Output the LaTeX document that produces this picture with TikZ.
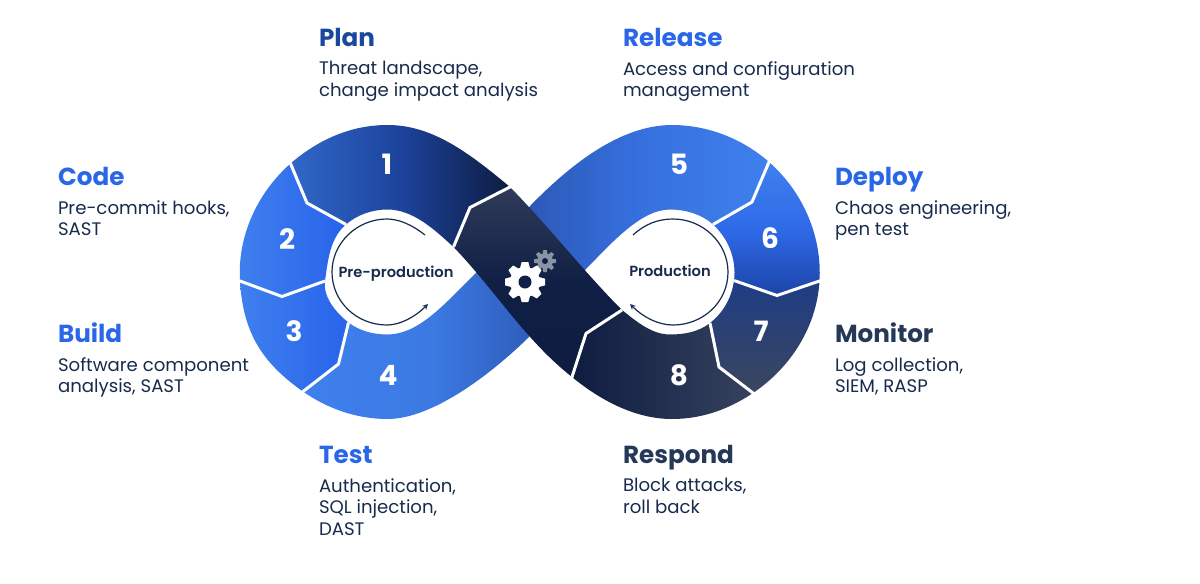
\documentclass[tikz,border=0pt]{standalone}
\usepackage{fontspec}
\setmainfont{Poppins}
\newfontfamily\phasefont{Poppins SemiBold}
\usetikzlibrary{arrows}
\usetikzlibrary{positioning}

\definecolor{navy}{HTML}{172B4D}
\definecolor{slate}{HTML}{253858}
\definecolor{azure}{HTML}{2A67E8}
\definecolor{royal}{HTML}{1A47A0}
\definecolor{skyb}{HTML}{3F80EE}
\definecolor{deepb}{HTML}{0E1C40}
\definecolor{crossb}{HTML}{2A55B0}
\definecolor{fivemid}{HTML}{3670DE}
\definecolor{midb}{HTML}{2863EB}
\definecolor{oneleft}{HTML}{3068C8}
\definecolor{onemid}{HTML}{1C439C}
\definecolor{sixmid}{HTML}{2F6AE8}
\definecolor{sixlow}{HTML}{1C44A8}
\definecolor{seventop}{HTML}{1E3D85}
\definecolor{sevenlow}{HTML}{3B465F}
\definecolor{eightend}{HTML}{36425E}
\definecolor{bandtop}{HTML}{2F3B58}
\definecolor{bandmid}{HTML}{101F45}
\definecolor{geargray}{HTML}{8A93A3}

\tikzset{
  head/.style={inner sep=0pt, outer sep=0pt, text depth=0pt, anchor=base west, font=\fontsize{18.5}{22}\selectfont\bfseries},
  desc/.style={inner sep=0pt, outer sep=0pt, align=left, text=navy, font=\fontsize{13.6}{16.1}\selectfont},
  num/.style={inner sep=0pt, text=white, font=\fontsize{21}{24}\selectfont\bfseries},
  phase/.style={inner sep=0pt, text=navy, font=\fontsize{11}{13}\phasefont},
  sep/.style={draw=white, line width=2.25pt, line join=miter, shorten <=-2pt},
  flow/.style={->, >=stealth, draw=navy, line width=0.9pt},
}

\newcommand{\gearwheel}[4]{% centre, body radius, tooth tip radius, colour
  \fill[#4] #1 circle (#2);
  \foreach \a in {0,45,...,315}
    \fill[#4, shift={#1}, rotate=\a] (-0.34*#2,0.9*#2) -- (-0.22*#2,#3) -- (0.22*#2,#3) -- (0.34*#2,0.9*#2) -- cycle;
}

\begin{document}
\begin{tikzpicture}[x=0.75pt,y=-0.75pt]
    \useasboundingbox (0,0) rectangle (1200,583);

    % shared corners of the segments: outer end, knee, inner end
    \coordinate (o12) at (290.5,163.5);
    \coordinate (k12) at (307,203);
    \coordinate (i12) at (346,224.5);
    \coordinate (o23) at (240,281);
    \coordinate (k23) at (282,296.5);
    \coordinate (i23) at (325,281);
    \coordinate (o34) at (303,391.5);
    \coordinate (k34) at (338.5,364);
    \coordinate (i34) at (348.5,322.5);
    \coordinate (o1g) at (510,187);
    \coordinate (k1g) at (470,207.5);
    \coordinate (i1g) at (453.5,247);
    \coordinate (o56) at (769,162);
    \coordinate (k56) at (752,202);
    \coordinate (i56) at (713,224.5);
    \coordinate (o67) at (819.5,281);
    \coordinate (k67) at (777,295.5);
    \coordinate (i67) at (734,280.5);
    \coordinate (o78) at (753,393);
    \coordinate (k78) at (719,367);
    \coordinate (i78) at (710,323);
    \coordinate (o8g) at (572,377);
    \coordinate (k8g) at (586,333.5);
    \coordinate (i8g) at (622,310);

    % segment 4 and 5 run on under the dark band
    \path [shade, left color=skyb, right color=crossb, middle color=skyb!95!black]
      (o34) .. controls (327.8,408.9) and (357,419) .. (387.5,419)
      .. controls (432,419) and (490,375) .. (528,338) -- (560,300) -- (505,240) -- (476,273)
      .. controls (445,303) and (420,334) .. (387.5,334.5)
      .. controls (373.5,334.5) and (359.6,331) .. (i34) -- (k34) -- cycle;
    \path [shade, left color=crossb, right color=skyb, middle color=fivemid]
      (510,228) -- (530,206) .. controls (570,165) and (620,125) .. (672,125)
      .. controls (707.5,125) and (742.4,138.6) .. (o56) -- (k56) -- (i56)
      .. controls (701.7,214.2) and (685.3,209.5) .. (670,209.5)
      .. controls (640,209.5) and (610,245) .. (584,271) -- (555,300) -- cycle;

    \path [shade, left color=oneleft, right color=deepb, middle color=onemid]
      (o12) .. controls (319,139) and (351.5,125) .. (387.5,125)
      .. controls (432,125) and (468,152) .. (o1g) -- (k1g) -- (i1g)
      .. controls (433,228) and (412,209.5) .. (387.5,209.5)
      .. controls (372.5,209.5) and (357.3,214.6) .. (i12) -- (k12) -- cycle;
    \path [shade, left color=skyb, right color=midb]
      (o12) .. controls (257,193.5) and (237.3,236) .. (o23) -- (k23) -- (i23)
      .. controls (328,260) and (330,238) .. (i12) -- (k12) -- cycle;
    \path [shade, left color=skyb, right color=midb]
      (o23) .. controls (243,332) and (261.3,362.2) .. (o34) -- (k34) -- (i34)
      .. controls (335.8,312.7) and (322.8,296.8) .. (i23) -- (k23) -- cycle;
    \path [shade, top color=skyb, bottom color=sixlow, middle color=sixmid]
      (o56) .. controls (802.8,191.7) and (822.2,236) .. (o67) -- (k67) -- (i67)
      .. controls (736.7,259.7) and (728.5,238.5) .. (i56) -- (k56) -- cycle;
    \path [shade, top color=seventop, bottom color=sevenlow]
      (o67) .. controls (816.8,326.6) and (790.8,367.6) .. (o78) -- (k78) -- (i78)
      .. controls (723.4,312.5) and (731.8,297.5) .. (i67) -- (k67) -- cycle;
    \path [shade, left color=deepb, right color=eightend]
      (o78) .. controls (728.4,409.5) and (701.6,419) .. (672,419)
      .. controls (635,419) and (600,400) .. (o8g) -- (k8g) -- (i8g)
      .. controls (637,322) and (652,334.5) .. (670,334.5)
      .. controls (684.4,334.5) and (698.7,331.9) .. (i78) -- (k78) -- cycle;

    % dark band in the middle
    \path [shade, top color=bandtop, bottom color=deepb, middle color=bandmid]
      (o1g) -- (k1g) -- (i1g) .. controls (495,290) and (525,340) .. (o8g)
      -- (k8g) -- (i8g) .. controls (585,273) and (550,228) .. (o1g) -- cycle;

    \draw [sep] (o12) -- (k12) -- (i12);
    \draw [sep] (o23) -- (k23) -- (i23);
    \draw [sep] (o34) -- (k34) -- (i34);
    \draw [sep] (o1g) -- (k1g) -- (i1g);
    \draw [sep] (o56) -- (k56) -- (i56);
    \draw [sep] (o67) -- (k67) -- (i67);
    \draw [sep] (o78) -- (k78) -- (i78);
    \draw [sep] (o8g) -- (k8g) -- (i8g);

    \gearwheel{(545,261)}{7.5}{11}{geargray}
    \fill [bandmid] (545,261) circle (3);
    \gearwheel{(525,282)}{15}{20}{white}
    \fill [bandmid] (525,282) circle (6.5);

    % arrows round the two phases
    \coordinate (lstart) at (425,235);
    \coordinate (lend) at (428,304);
    \coordinate (rstart) at (633,235);
    \coordinate (rend) at (630,304);
    \draw [flow] (lstart) .. controls (411,224) and (398,219) .. (387,219)
      .. controls (357,219) and (332,243) .. (332,272)
      .. controls (332,302) and (357,325) .. (387,325)
      .. controls (400,325) and (415,317) .. (lend);
    \draw [flow] (rstart) .. controls (645,224) and (658,219) .. (673,219)
      .. controls (703,219) and (728,243) .. (728,272)
      .. controls (728,302) and (703,325) .. (673,325)
      .. controls (658,325) and (643,317) .. (rend);

    \node (preprod) [phase] at (396,274) {Pre-production};
    \node (prod) [phase] at (670,271) {Production};

    \node (n1) [num] at (387,164) {1};
    \node (n2) [num] at (287,239) {2};
    \node (n3) [num] at (294,331) {3};
    \node (n4) [num] at (388,375) {4};
    \node (n5) [num] at (679,164) {5};
    \node (n6) [num] at (770,238) {6};
    \node (n7) [num] at (761,331) {7};
    \node (n8) [num] at (679,375) {8};

    \node (plan) [head, text=royal] at (319,46) {Plan};
    \node (plantxt) [desc, below right=11.5pt and 0pt of plan.south west] {Threat landscape,\\change impact analysis};
    \node (release) [head, text=azure] at (623,46) {Release};
    \node (releasetxt) [desc, below right=11.5pt and 0pt of release.south west] {Access and configuration\\management};
    \node (code) [head, text=azure] at (58,185) {Code};
    \node (codetxt) [desc, below right=11.5pt and 0pt of code.south west] {Pre-commit hooks,\\SAST};
    \node (deploy) [head, text=azure] at (835,185) {Deploy};
    \node (deploytxt) [desc, below right=11.5pt and 0pt of deploy.south west] {Chaos engineering,\\pen test};
    \node (build) [head, text=azure] at (58,342) {Build};
    \node (buildtxt) [desc, below right=11.5pt and 0pt of build.south west] {Software component\\analysis, SAST};
    \node (monitor) [head, text=slate] at (835,342) {Monitor};
    \node (monitortxt) [desc, below right=11.5pt and 0pt of monitor.south west] {Log collection,\\SIEM, RASP};
    \node (test) [head, text=azure] at (319,463) {Test};
    \node (testtxt) [desc, below right=11.5pt and 0pt of test.south west] {Authentication,\\SQL injection,\\DAST};
    \node (respond) [head, text=slate] at (623,463) {Respond};
    \node (respondtxt) [desc, below right=11.5pt and 0pt of respond.south west] {Block attacks,\\roll back};
\end{tikzpicture}
\end{document}
